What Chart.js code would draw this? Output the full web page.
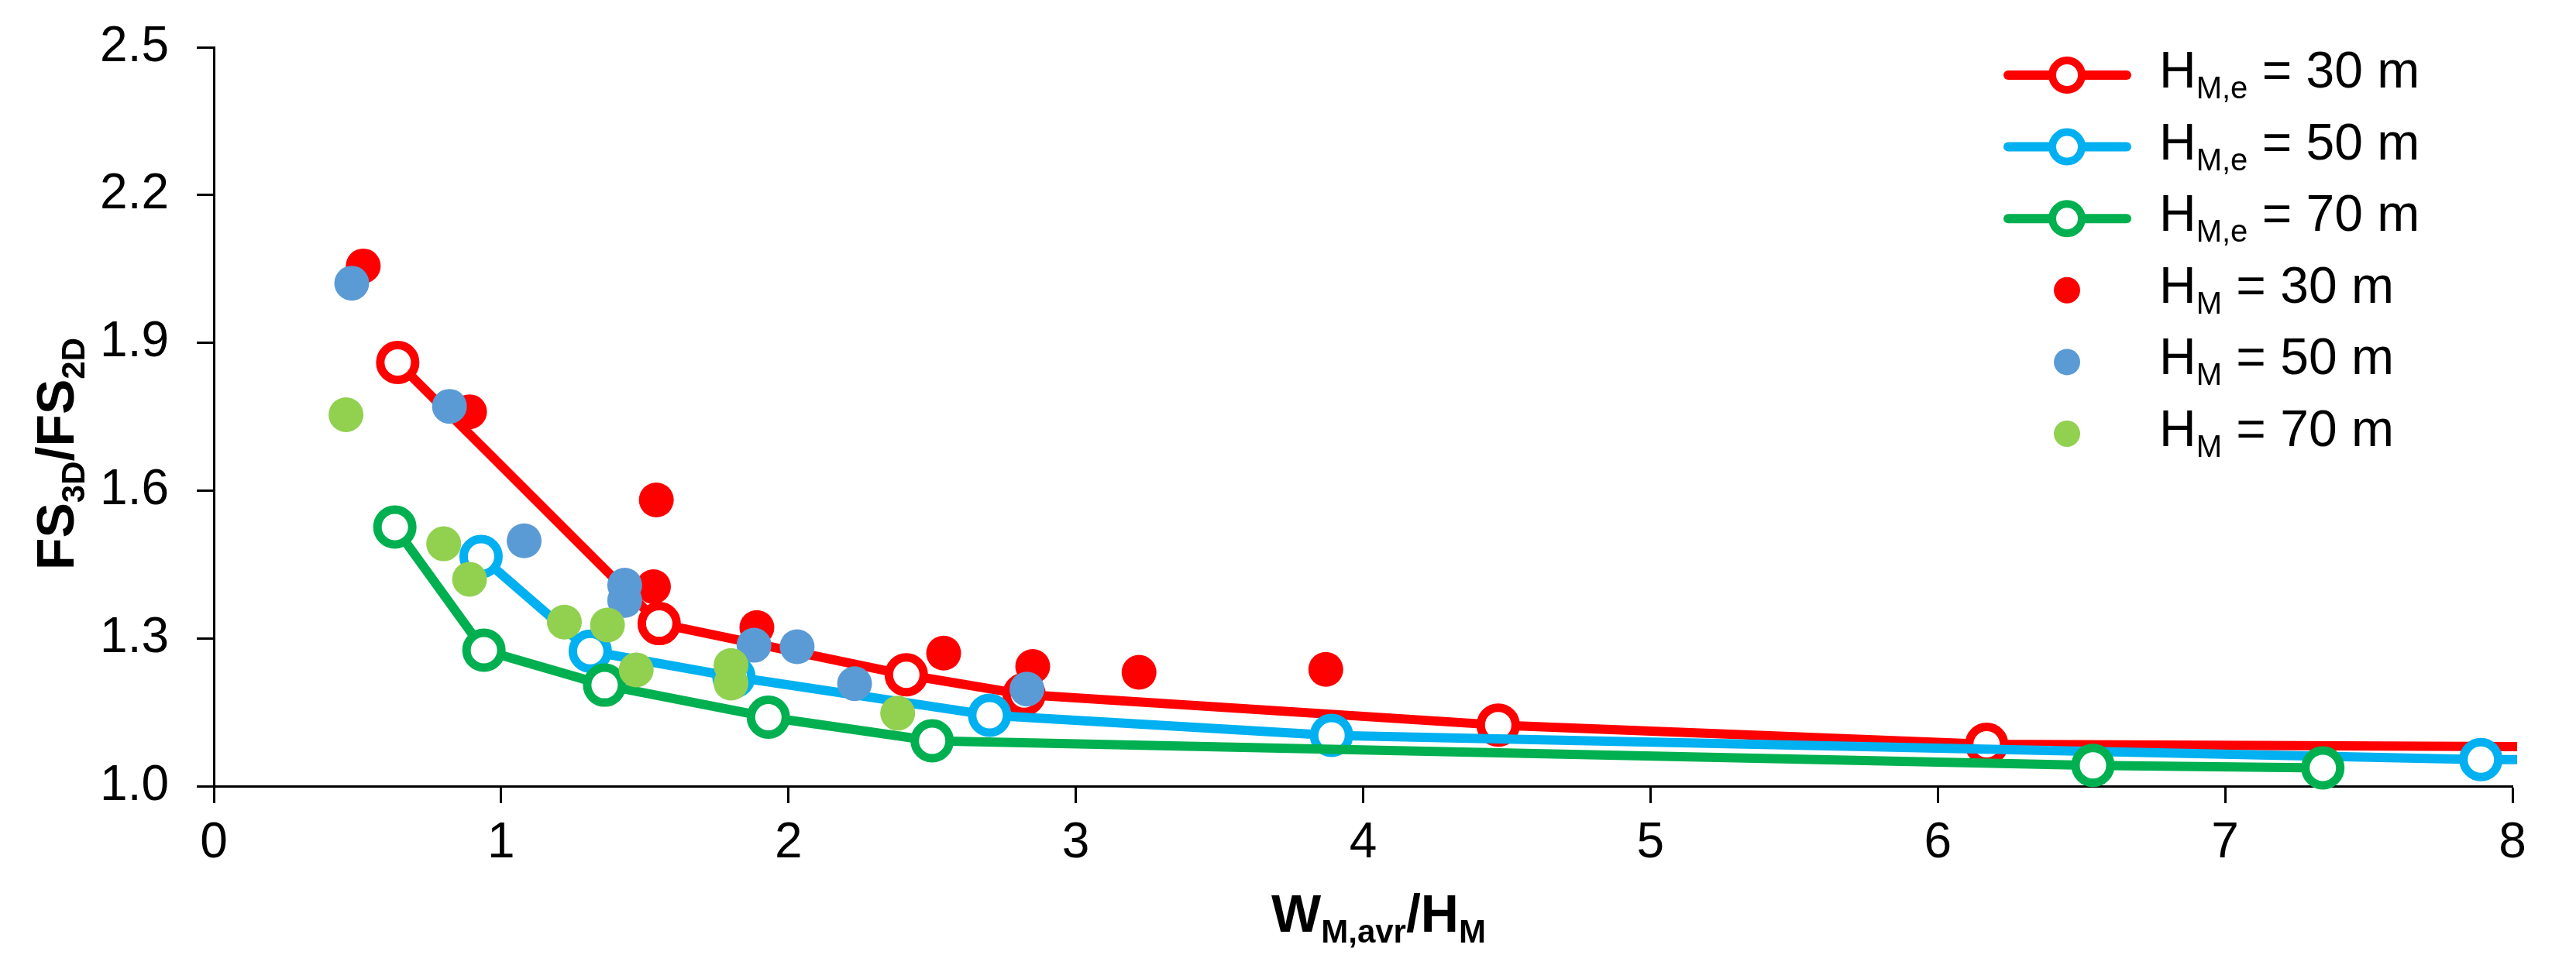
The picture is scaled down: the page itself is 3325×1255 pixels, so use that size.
<!DOCTYPE html>
<html>
<head>
<meta charset="utf-8">
<title>FS3D/FS2D vs WM,avr/HM</title>
<script src="https://cdn.jsdelivr.net/npm/chart.js@4/dist/chart.umd.min.js"></script>
<style>
  html, body { margin: 0; padding: 0; background: #fff; }
  #wrap { position: relative; width: 3325px; height: 1255px; }
</style>
</head>
<body>
<div id="wrap"><canvas id="chart"></canvas></div>
<script>
// Effective-height curves (lines with open markers)
const lineX30 = [0.64, 1.55, 2.41, 2.82, 4.47, 6.17, 9.5];
const lineY30 = [1.860, 1.330, 1.226, 1.186, 1.124, 1.085, 1.076];
const lineX50 = [0.93, 1.31, 1.81, 2.70, 3.89, 7.89, 9.5];
const lineY50 = [1.466, 1.274, 1.222, 1.144, 1.103, 1.054, 1.054];
const lineX70 = [0.63, 0.94, 1.36, 1.93, 2.50, 6.54, 7.34];
const lineY70 = [1.526, 1.276, 1.205, 1.140, 1.092, 1.042, 1.037];

// Individual cases (filled dots)
const dotX30 = [0.52, 0.89, 1.54, 1.53, 1.89, 2.54, 2.85, 3.22, 3.87];
const dotY30 = [2.056, 1.760, 1.581, 1.405, 1.322, 1.270, 1.243, 1.231, 1.237];
const dotX50 = [0.48, 0.82, 1.08, 1.43, 1.43, 1.88, 2.03, 2.23, 2.83];
const dotY50 = [2.021, 1.771, 1.498, 1.408, 1.377, 1.286, 1.283, 1.208, 1.197];
const dotX70 = [0.46, 0.80, 0.89, 1.22, 1.37, 1.47, 1.80, 1.80, 2.38];
const dotY70 = [1.754, 1.492, 1.420, 1.333, 1.327, 1.236, 1.245, 1.209, 1.148];

// Axes
const xTicks = [0, 1, 2, 3, 4, 5, 6, 7, 8];
const yTicks = [1.0, 1.3, 1.6, 1.9, 2.2, 2.5];

const FONT = '"Liberation Sans", Arial, sans-serif';

function toPoints(xs, ys) {
  return xs.map((x, i) => ({ x, y: ys[i] }));
}

function lineSet(label, sub, xs, ys, color, order) {
  return {
    label,
    legendParts: [{ t: 'H' }, { t: sub, sub: true }, { t: label.split(sub)[1] }],
    kind: 'line',
    data: toPoints(xs, ys),
    showLine: true,
    borderColor: color,
    borderWidth: 12,
    borderJoinStyle: 'round',
    pointRadius: 22.5,
    pointBorderWidth: 11,
    pointBackgroundColor: '#fff',
    pointBorderColor: color,
    pointHoverRadius: 22.5,
    clip: { left: 40, top: 40, right: 6, bottom: 40 },
    order
  };
}

function dotSet(label, sub, xs, ys, color, order) {
  return {
    label,
    legendParts: [{ t: 'H' }, { t: sub, sub: true }, { t: label.split(sub)[1] }],
    kind: 'dot',
    data: toPoints(xs, ys),
    showLine: false,
    backgroundColor: color,
    borderColor: color,
    pointRadius: 22.5,
    pointBorderWidth: 0,
    pointHoverRadius: 22.5,
    clip: false,
    order
  };
}

// Draw text with subscript pieces, returns width
function drawRich(ctx, parts, x, y, size, subSize, bold, drop, measureOnly) {
  let cx = x;
  parts.forEach(p => {
    ctx.font = `${bold ? 'bold ' : ''}${p.sub ? subSize : size}px ${FONT}`;
    if (!measureOnly) ctx.fillText(p.t, cx, y + (p.sub ? drop : 0));
    cx += ctx.measureText(p.t).width;
  });
  return cx - x;
}

const decorPlugin = {
  id: 'decor',
  afterDraw(chart) {
    const ctx = chart.ctx;
    const area = chart.chartArea;
    ctx.save();
    ctx.fillStyle = '#000';
    ctx.textBaseline = 'alphabetic';
    ctx.textAlign = 'left';

    // x axis title
    const xParts = [{ t: 'W' }, { t: 'M,avr', sub: true }, { t: '/H' }, { t: 'M', sub: true }];
    const xw = drawRich(ctx, xParts, 0, 0, 68, 42, true, 14, true);
    drawRich(ctx, xParts, (area.left + area.right) / 2 + 20 - xw / 2, 1203, 68, 42, true, 14);

    // y axis title
    const yParts = [{ t: 'FS' }, { t: '3D', sub: true }, { t: '/FS' }, { t: '2D', sub: true }];
    const yw = drawRich(ctx, yParts, 0, 0, 68, 42, true, 14, true);
    ctx.save();
    ctx.translate(95, 586);
    ctx.rotate(-Math.PI / 2);
    drawRich(ctx, yParts, -yw / 2, 0, 68, 42, true, 14);
    ctx.restore();

    // legend
    const sx0 = 2592, sx1 = 2745, mx = 2668, tx = 2787;
    const rowTop = 97, rowStep = 92.6;
    chart.data.datasets.forEach((ds, i) => {
      const cy = rowTop + i * rowStep;
      if (ds.kind === 'line') {
        ctx.strokeStyle = ds.borderColor;
        ctx.lineWidth = 12;
        ctx.lineCap = 'round';
        ctx.beginPath();
        ctx.moveTo(sx0, cy);
        ctx.lineTo(sx1, cy);
        ctx.stroke();
        ctx.fillStyle = '#fff';
        ctx.lineWidth = 10;
        ctx.beginPath();
        ctx.arc(mx, cy, 19, 0, Math.PI * 2);
        ctx.fill();
        ctx.stroke();
      } else {
        ctx.fillStyle = ds.backgroundColor;
        ctx.beginPath();
        ctx.arc(mx, cy, 17, 0, Math.PI * 2);
        ctx.fill();
      }
      ctx.fillStyle = '#000';
      drawRich(ctx, ds.legendParts, tx, cy + 16, 66, 40, false, 14);
    });
    ctx.restore();
  }
};

const datasets = [
  lineSet('HM,e = 30 m', 'M,e', lineX30, lineY30, '#FF0000', 6),
  lineSet('HM,e = 50 m', 'M,e', lineX50, lineY50, '#00B0F0', 5),
  lineSet('HM,e = 70 m', 'M,e', lineX70, lineY70, '#00B050', 4),
  dotSet('HM = 30 m', 'M', dotX30, dotY30, '#FF0000', 3),
  dotSet('HM = 50 m', 'M', dotX50, dotY50, '#5B9BD5', 2),
  dotSet('HM = 70 m', 'M', dotX70, dotY70, '#92D050', 1)
];

const axisCommon = {
  border: { display: true, color: '#000', width: 3 },
  grid: {
    display: true,
    drawOnChartArea: false,
    drawTicks: true,
    tickLength: 22,
    tickColor: '#000',
    tickWidth: 3
  }
};

new Chart(document.getElementById('chart'), {
  type: 'scatter',
  data: { datasets },
  options: {
    responsive: true,
    maintainAspectRatio: false,
    animation: false,
    events: [],
    layout: { padding: { left: 0, right: 82, top: 61, bottom: 0 } },
    plugins: {
      legend: { display: false },
      tooltip: { enabled: false }
    },
    scales: {
      x: {
        ...axisCommon,
        type: 'linear',
        min: 0,
        max: 8,
        afterBuildTicks: s => { s.ticks = xTicks.map(v => ({ value: v })); },
        afterFit: s => { s.height = 240; s.paddingLeft = 0; s.paddingRight = 0; },
        ticks: {
          color: '#000',
          padding: 14,
          font: { family: FONT, size: 64 },
          callback: v => String(v)
        }
      },
      y: {
        ...axisCommon,
        type: 'linear',
        min: 1.0,
        max: 2.5,
        afterBuildTicks: s => { s.ticks = yTicks.map(v => ({ value: v })); },
        afterFit: s => { s.width = 276; s.paddingTop = 0; s.paddingBottom = 0; },
        ticks: {
          color: '#000',
          padding: 36,
          font: { family: FONT, size: 64 },
          callback: v => Number(v).toFixed(1)
        }
      }
    }
  },
  plugins: [decorPlugin]
});
</script>
</body>
</html>
